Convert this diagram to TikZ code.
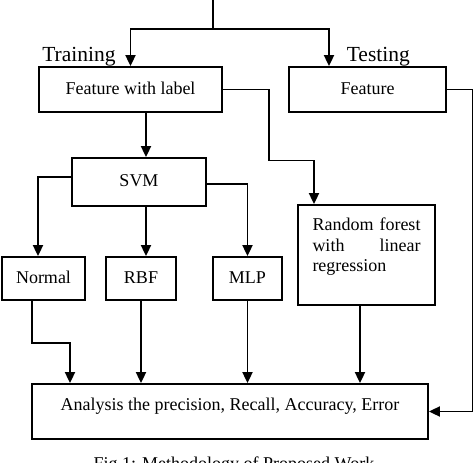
\documentclass[tikz,border=0pt]{standalone}
\usepackage{fontspec}
\setmainfont{Liberation Serif}
\usetikzlibrary{arrows.meta,positioning}

\begin{document}
\begin{tikzpicture}[x=1pt,y=-1pt,line width=1.8pt,>={Triangle[length=11pt,width=10pt]},
	box/.style={draw,rectangle,inner sep=0pt,font=\fontsize{18}{20.5}\selectfont,text height=13pt,text depth=4pt},
	phase/.style={anchor=base,font=\fontsize{21.5}{24}\selectfont}]
	\useasboundingbox (0,0) rectangle (474,463);

	% boxes
	\node[box,minimum width=183pt,minimum height=45pt] (fwl) at (130.5,89.5) {Feature with label};
	\node[box,minimum width=157pt,minimum height=45pt] (test) at (367.5,89.5) {Feature};
	\node[box,minimum width=134pt,minimum height=48pt] (svm) at (139,182) {SVM};
	\node[box,minimum width=83pt,minimum height=43pt] (normal) at (43.5,278.5) {Normal};
	\node[box,minimum width=70pt,minimum height=43pt] (rbf) at (141,278.5) {RBF};
	\node[box,minimum width=69pt,minimum height=43pt] (mlp) at (247.5,278.5) {MLP};
	\node[draw,rectangle,inner sep=0pt,minimum width=137pt,minimum height=100pt,text width=108pt,align=justify,
		font=\fontsize{18}{20.5}\selectfont] (rf) at (366.5,255)
		{\hyphenpenalty=10000\exhyphenpenalty=10000 Random forest with linear regression\par\kern16pt};
	\node[box,minimum width=396pt,minimum height=55pt,text depth=16pt] (ana) at (230,411.5) {Analysis the precision, Recall, Accuracy, Error};

	\node[phase] (train) at (79,61.7) {Training};
	\node[phase] (testing) at (378.3,61.7) {Testing};
	\node[anchor=base,font=\fontsize{18}{20.5}\selectfont] (cap) at (234,469) {Fig 1: Methodology of Proposed Work};

	% columns of the connectors
	\coordinate (src) at (213,0);
	\coordinate (fork) at (213,29);
	\coordinate (colA) at (146,0);
	\coordinate (colT) at (329,0);
	\coordinate (colR) at (314,0);
	\coordinate (colN) at (38,0);
	\coordinate (colN2) at (32,0);
	\coordinate (colA2) at (70,0);
	\coordinate (colF) at (360,0);
	\coordinate (colE) at (472.5,0);

	\draw (src)--(fork);
	\draw[->] (fork) -| (fwl.north);
	\draw[->] (fork)--(fork -| colT)--(test.north -| colT);
	\draw[->] (fwl.south -| colA)--(svm.north -| colA);
	\draw[->] (fwl.east)--++(46,0)--++(0,71) -| (rf.north -| colR);
	\draw[->] (test.east) -| (colE |- ana.east)--(ana.east);
	\draw[->] ([yshift=5pt]svm.west) -| (normal.north -| colN);
	\draw[->] (svm.south -| colA)--(rbf.north -| colA);
	\draw[->] ([yshift=-2pt]svm.east) -| (mlp.north);
	\draw[->] (normal.south -| colN2)--++(0,42) -| (ana.north -| colA2);
	\draw[->] (rbf.south)--(rbf.south |- ana.north);
	\draw[->] (mlp.south)--(mlp.south |- ana.north);
	\draw[->] (rf.south -| colF)--(ana.north -| colF);
\end{tikzpicture}
\end{document}
